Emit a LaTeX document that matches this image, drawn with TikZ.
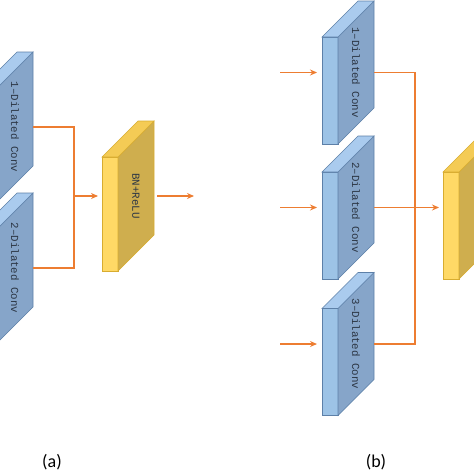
\documentclass[tikz,border=0pt]{standalone}
\usepackage{fontspec}
\usepackage{tikz}
\usetikzlibrary{arrows.meta}

\newfontfamily\blockfont{Liberation Mono}
\newfontfamily\capfont{Carlito}

\definecolor{convfront}{HTML}{9DC3E6}
\definecolor{convside}{HTML}{86A5C9}
\definecolor{convtop}{HTML}{AACBEE}
\definecolor{convline}{HTML}{5D80A8}
\definecolor{bnfront}{HTML}{FFD966}
\definecolor{bnside}{HTML}{CFAE4E}
\definecolor{bntop}{HTML}{F4CB55}
\definecolor{bnline}{HTML}{D8AC30}
\definecolor{flow}{HTML}{ED7D31}
\definecolor{blockink}{HTML}{2C3644}

\tikzset{
  cubebox/.style={minimum width=52pt,inner sep=0pt,outer sep=0pt},
  conv front/.style={fill=convfront,draw=convline,line width=0.6pt},
  conv side/.style={fill=convside,draw=convline,line width=0.6pt},
  conv top/.style={fill=convtop,draw=convline,line width=0.6pt},
  bn front/.style={fill=bnfront,draw=bnline,line width=0.6pt},
  bn side/.style={fill=bnside,draw=bnline,line width=0.6pt},
  bn top/.style={fill=bntop,draw=bnline,line width=0.6pt},
  blocktext/.style={rotate=-90,font=\blockfont\fontsize{10.8}{12}\selectfont,text=blockink},
  flowline/.style={draw=flow,line width=1.8pt},
  flowarrow/.style={flowline,-{Stealth[length=7pt,width=6pt]}},
  caption/.style={font=\capfont\fontsize{18}{20}\selectfont}
}

% #1 name, #2 centre, #3 front height, #4 colour set, #5 text
\newcommand{\cuboid}[5]{%
  \node[cubebox,minimum height={(#3+36)*1pt}] (#1) at (#2) {};
  \filldraw[#4 front] (#1.south west) rectangle ++(16,-#3);
  \filldraw[#4 side] ([xshift=16pt]#1.south west) -- ++(36,-36) -- ++(0,-#3) -- ++(-36,36) -- cycle;
  \filldraw[#4 top] ([yshift=#3pt]#1.south west) -- ++(16,0) -- ++(36,-36) -- ++(-16,0) -- cycle;
  \node[blocktext] at ([xshift=8pt]#1.center) {#5};
}

\begin{document}
\begin{tikzpicture}[x=1pt,y=-1pt]
\useasboundingbox (0,0) rectangle (474,474);
\clip (0,0) rectangle (474,474);

% (a)
\cuboid{a1}{7,127}{114}{conv}{1–Dilated Conv}
\cuboid{a2}{7,268}{114}{conv}{2–Dilated Conv}
\cuboid{abn}{128,196}{114}{bn}{BN+ReLU}
\coordinate (aj) at (74,196);
\draw[flowline] (a1.east) -| (aj) |- (a2.east);
\draw[flowarrow,shorten >=4pt] (aj) -- (abn.west);
\draw[flowarrow,shorten <=3pt] (abn.east) -- ++(40,0);

% (b)
\cuboid{b1}{348,72.5}{107}{conv}{1–Dilated Conv}
\cuboid{b2}{348,207.5}{107}{conv}{2–Dilated Conv}
\cuboid{b3}{348,344}{107}{conv}{3–Dilated Conv}
\cuboid{bbn}{469,207.5}{107}{bn}{}
\foreach \b in {b1,b2,b3}
  \draw[flowarrow,shorten >=5pt] ([xshift=-42pt]\b.west) -- (\b.west);
\coordinate (bj) at (415,72.5);
\draw[flowline] (b1.east) -| (bj) |- (b3.east);
\draw[flowarrow,shorten >=4pt] (b2.east) -- (bbn.west);

\node[caption] (capa) at (52,462) {(a)};
\node[caption] (capb) at (376,462) {(b)};
\end{tikzpicture}
\end{document}
